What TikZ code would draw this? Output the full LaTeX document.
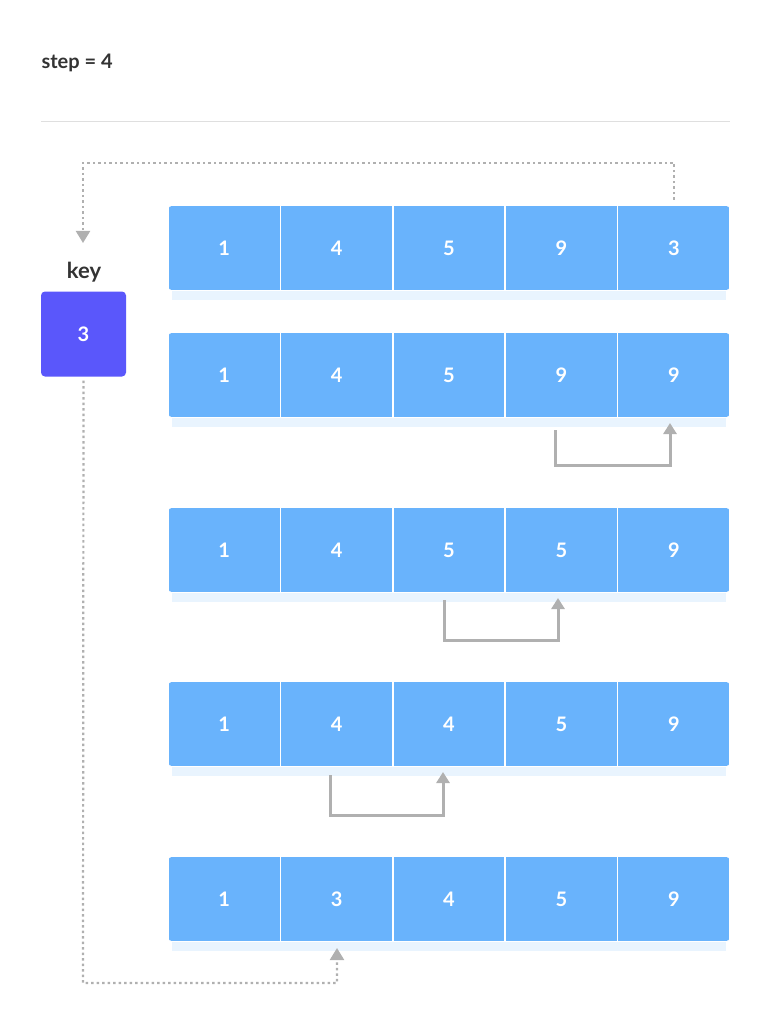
\documentclass[tikz,border=0pt]{standalone}
\usepackage{fontspec}
\setmainfont{Lato}
\usetikzlibrary{arrows.meta}
\definecolor{cellc}{HTML}{69B3FC}
\definecolor{keyc}{HTML}{5A57FB}
\definecolor{arr}{HTML}{B0B0B0}
\definecolor{txt}{HTML}{333333}
\begin{document}
\begin{tikzpicture}[x=1pt,y=-1pt,
 cell/.style={fill=cellc,draw=white,line width=1.2pt,minimum width=112.4pt,minimum height=85pt,inner sep=0,text=white,font=\bfseries\fontsize{20}{24}\selectfont},
 move/.style={draw=arr,line width=3pt,-{Triangle[length=11pt,width=13pt]}},
 dot/.style={draw=arr,line width=2.2pt,dash pattern=on 2.5pt off 3pt,-{Triangle[length=12pt,width=14pt]}}]
\useasboundingbox (0,0) rectangle (772,1024);
\node[anchor=west,text=txt,font=\bfseries\fontsize{20}{24}\selectfont] (step) at (38,63) {step = 4};
\draw[gray!25,line width=1pt] (41,122) -- (730,122);
\def\rows{{248,375,550,724,899}}
\foreach \r/\y/\vals in {a/248/{1,4,5,9,3},b/375/{1,4,5,9,9},c/550/{1,4,5,5,9},d/724/{1,4,4,5,9},e/899/{1,3,4,5,9}}{
  \fill[cellc!15] (172,\y+38) rectangle (726,\y+52);
  \fill[cellc,rounded corners=5pt] (168,\y-42.5) rectangle (730,\y+42.5);
  \foreach \v [count=\i] in \vals {
    \node[cell,fill=none] (\r\i) at (168+112.4*\i-56.2,\y) {\v};
  }
  \foreach \i in {1,...,4} \draw[white,line width=1.5pt] (168+112.4*\i,\y-42.5) -- (168+112.4*\i,\y+42.5);
}
\node[fill=keyc,rounded corners=4pt,minimum width=85pt,minimum height=85pt,text=white,font=\bfseries\fontsize{20}{24}\selectfont] (key) at (83.5,334) {3};
\node[text=txt,font=\bfseries\fontsize{22}{26}\selectfont] (keyl) at (84,272) {key};
\coordinate (t1) at (674,200);
\coordinate (t2) at (83,243);
\draw[dot] (t1) -- (674,163) -- (83,163) -- (t2);
\coordinate (b2) at (337,948);
\draw[dot] (key.south) ++(0,4) -- (83,983) -- (337,983) -- (b2);
\draw[move] (555,430) -- (555,465) -- (670,465) -- (670,423);
\draw[move] (444,600) -- (444,640) -- (558,640) -- (558,598);
\draw[move] (330,775) -- (330,815) -- (443,815) -- (443,772);
\end{tikzpicture}
\end{document}
